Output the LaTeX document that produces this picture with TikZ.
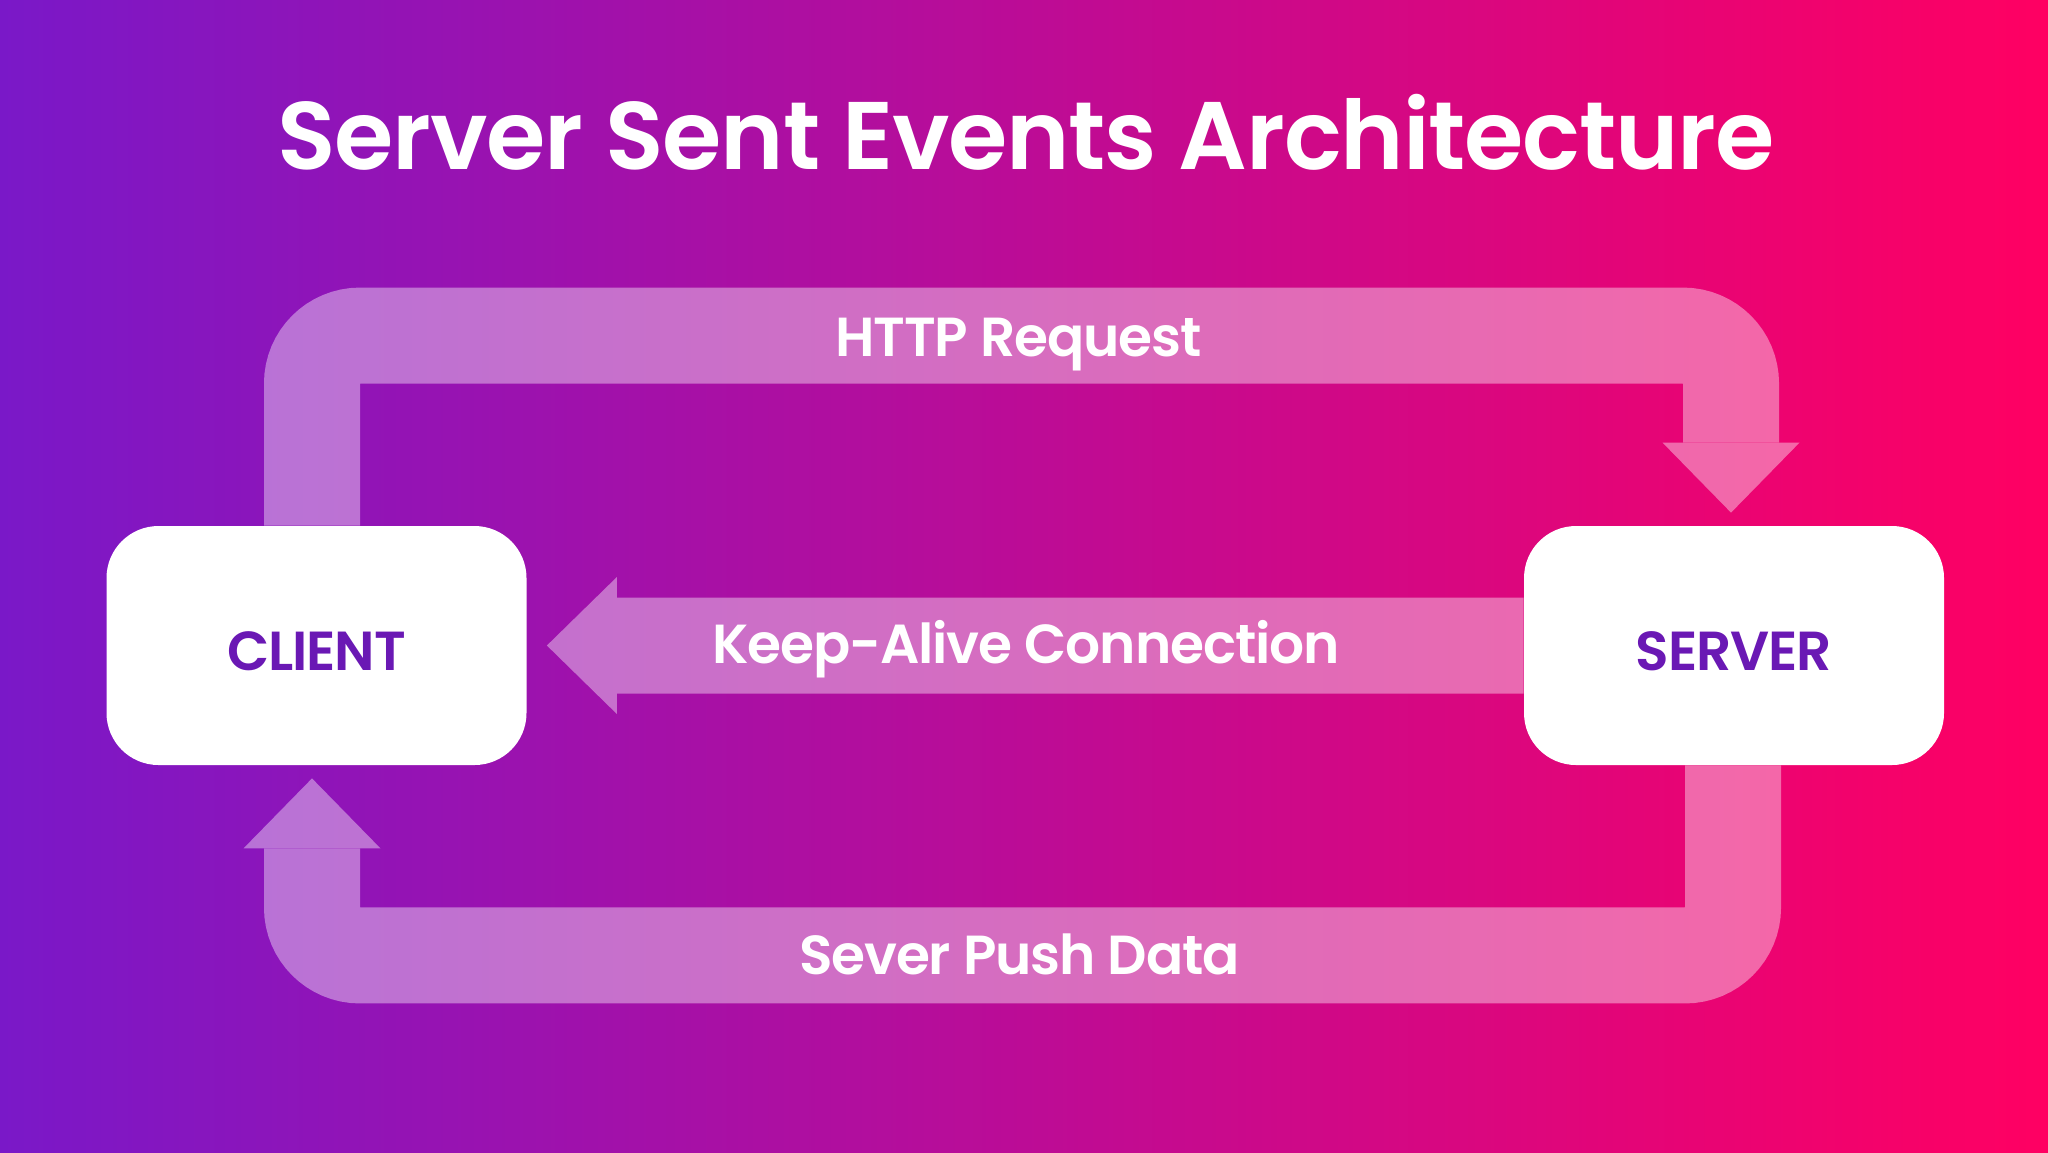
\documentclass[tikz,border=0pt]{standalone}
\usepackage{fontspec}
\setmainfont{Poppins}
\newfontfamily\popttl{Poppins SemiBold}[LetterSpace=-1.2]
\newfontfamily\poplbl{Poppins SemiBold}[LetterSpace=-2]
\usetikzlibrary{arrows.meta}
\definecolor{bgL}{HTML}{7A18C8}
\definecolor{bgM}{HTML}{BC0C96}
\definecolor{bgR}{HTML}{FF0062}
\definecolor{boxtext}{HTML}{6A18B4}
\pgfdeclarelayer{bg}
\pgfsetlayers{bg,main}
\begin{document}
\begin{tikzpicture}[x=0.5pt,y=-0.5pt,
  band/.style={line width=48pt, draw=white, rounded corners=24pt,
    -{Triangle[length=35pt,width=68.5pt,line width=0pt]}},
  box/.style={fill=white, rounded corners=26pt, minimum width=210pt,
    minimum height=119.5pt, inner sep=0pt, text=boxtext,
    font=\fontsize{27.5}{30}\poplbl, text height=24.5pt, text depth=0pt},
  lbl/.style={text=white, font=\fontsize{27.5}{30}\poplbl,
    anchor=base, inner sep=0pt},
  ttl/.style={text=white, font=\fontsize{48}{52}\popttl,
    anchor=base, inner sep=0pt}]
\useasboundingbox (0,0) rectangle (2048,1152);
\node[box] (client) at (316.5,645.5) {CLIENT};
\node[box] (server) at (1734,645.5) {SERVER};
\begin{pgfonlayer}{bg}
\shade[left color=bgL, right color=bgR, middle color=bgM] (0,0) rectangle (2048,1152);
\begin{scope}[transparency group, opacity=0.4]
\draw[band, shorten >=6.5pt] ([xshift=-2.25pt]client.north) -- ++(0,-190) -| ([xshift=-1.5pt]server.north);
\draw[band, shorten >=6.5pt] ([xshift=-0.5pt]server.south) -- ++(0,190) -| ([xshift=-2.25pt]client.south);
\draw[band, shorten >=10pt] (server.west) -- (client.east);
\end{scope}
\end{pgfonlayer}
\node[ttl] (title) at (1026,169) {Server Sent Events Architecture};
\node[lbl] (http) at (1018.5,356) {HTTP Request};
\node[lbl] (keep) at (1026,663) {Keep-Alive Connection};
\node[lbl] (push) at (1019.5,974) {Sever Push Data};
\end{tikzpicture}
\end{document}
